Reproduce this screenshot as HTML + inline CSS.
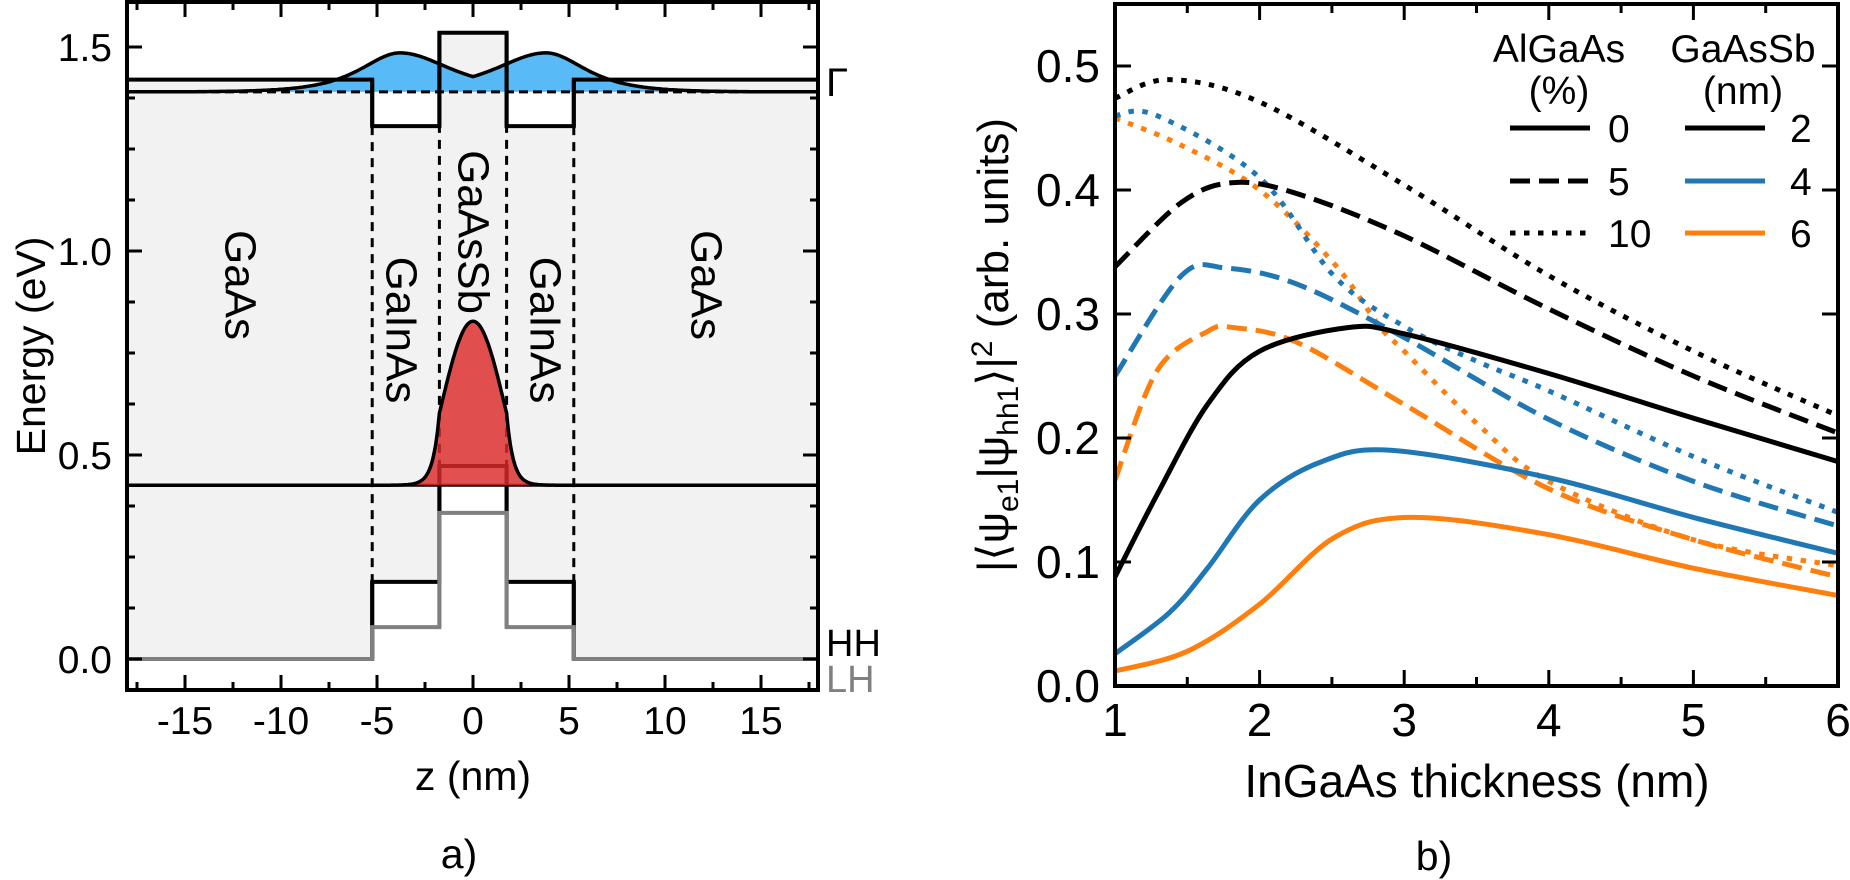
<!DOCTYPE html>
<html><head><meta charset="utf-8"><style>
html,body{margin:0;padding:0;background:#fff}
svg{display:block}
text{font-family:"Liberation Sans",sans-serif}
</style></head><body>
<svg id="s" width="1850" height="880" viewBox="0 0 1850 880" xmlns="http://www.w3.org/2000/svg">
<!-- LEFT PANEL -->
<g id="L"></g>
<!-- RIGHT PANEL -->
<g id="R"></g>
</svg>
<script>
const NS="http://www.w3.org/2000/svg";
function el(p,tag,attrs,txt){const e=document.createElementNS(NS,tag);for(const k in attrs)e.setAttribute(k,attrs[k]);if(txt!==undefined)e.textContent=txt;p.appendChild(e);return e;}
const L=document.getElementById('L'),R=document.getElementById('R');
// left mapping
const lx=z=>473+19.2*z, ly=E=>659-408*E;
const AX0=127,AX1=818,AY0=2,AY1=690;
el(L,'clipPath',{id:'cl'});el(L.lastChild,'rect',{x:AX0,y:AY0,width:AX1-AX0,height:AY1-AY0});
const g=el(L,'g',{'clip-path':'url(#cl)'});
const zs=[-18,-5.25,-1.75,1.75,5.25,18];
const CB=[1.42,1.306,1.535,1.306,1.42], HH=[0,0.189,0.473,0.189,0], LH=[0,0.078,0.358,0.078,0];
function stepPath(vals){let d='';for(let i=0;i<5;i++){d+=(i==0?'M':'L')+lx(zs[i])+','+ly(vals[i])+' L'+lx(zs[i+1])+','+ly(vals[i])+' ';}return d;}
// gray fill between HH and CB
for(let i=0;i<5;i++){el(g,'rect',{x:lx(zs[i]),y:ly(CB[i]),width:lx(zs[i+1])-lx(zs[i]),height:ly(HH[i])-ly(CB[i]),fill:'#f2f2f2'});}
// blue wavefunction
function fb(z){const a=Math.abs(z);return a<3.8?39/Math.cosh(0.42*(3.8-a)):39/Math.cosh(0.55*(a-3.8));}
let d='M'+lx(-18)+','+ly(1.39);for(let z=-18;z<=18.001;z+=0.1)d+=' L'+lx(z).toFixed(1)+','+(ly(1.39)-fb(z)).toFixed(1);
d+=' L'+lx(18)+','+ly(1.39)+'Z';
el(g,'path',{d:d,fill:'#2eaaf5','fill-opacity':0.8,stroke:'none'});
// red wavefunction
function fr(z){const a=Math.abs(z);if(a<=1.75)return 164*Math.pow(Math.cos(Math.PI*a/6.5),2);return 164*Math.pow(Math.cos(Math.PI*1.75/6.5),2)*Math.exp(-2.93*(a-1.75));}
let dr='M'+lx(-18)+','+ly(0.426);let dl='';for(let z=-18;z<=18.001;z+=0.05){const p=lx(z).toFixed(1)+','+(ly(0.426)-fr(z)).toFixed(1);dr+=' L'+p;dl+=(dl?' L':'M')+p;}
// black bands
el(g,'path',{d:stepPath(CB)+'',fill:'none',stroke:'#000','stroke-width':4,'stroke-linejoin':'miter'});
// vertical connections for CB
function vconn(vals,col){for(let i=1;i<5;i++)el(g,'line',{x1:lx(zs[i]),x2:lx(zs[i]),y1:ly(vals[i-1]),y2:ly(vals[i]),stroke:col,'stroke-width':4});}
vconn(CB,'#000');
el(g,'path',{d:stepPath(HH),fill:'none',stroke:'#000','stroke-width':4});vconn(HH,'#000');
// dashed verticals
[[-5.25,1.306],[5.25,1.306]].forEach(([z,E])=>el(g,'line',{x1:lx(z),x2:lx(z),y1:ly(E),y2:ly(0.189),stroke:'#000','stroke-width':3,'stroke-dasharray':'9,7'}));
[-1.75,1.75].forEach(z=>el(g,'line',{x1:lx(z),x2:lx(z),y1:ly(1.39),y2:ly(0.426),stroke:'#000','stroke-width':3,'stroke-dasharray':'9,7'}));
// dashed horizontal Γ level
el(g,'line',{x1:AX0,x2:AX1,y1:ly(1.39),y2:ly(1.39),stroke:'#000','stroke-width':3,'stroke-dasharray':'9,5'});
// blue outline
let db='';for(let z=-18;z<=18.001;z+=0.1)db+=(db?' L':'M')+lx(z).toFixed(1)+','+(ly(1.39)-fb(z)).toFixed(1);
el(g,'path',{d:db,fill:'none',stroke:'#000','stroke-width':3.5});
// hh level line
el(g,'line',{x1:AX0,x2:AX1,y1:ly(0.426),y2:ly(0.426),stroke:'#000','stroke-width':3});
// red fill over
dr+=' L'+lx(18)+','+ly(0.426)+'Z';
el(g,'path',{d:dr,fill:'#dd2a2a','fill-opacity':0.82,stroke:'none'});
el(g,'path',{d:dl,fill:'none',stroke:'#000','stroke-width':3.5});
// LH gray
el(g,'path',{d:stepPath(LH),fill:'none',stroke:'#808080','stroke-width':4});vconn(LH,'#808080');
// labels rotated
function vlab(x,y,t){el(L,'text',{x:0,y:0,'font-size':44,'text-anchor':'middle','dominant-baseline':'central',transform:`translate(${x},${y}) rotate(90)`},t);}
vlab(240,285,'GaAs');vlab(706,285,'GaAs');vlab(401,330,'GaInAs');vlab(545,330,'GaInAs');vlab(473,232,'GaAsSb');
// axes box
el(L,'rect',{x:AX0,y:AY0,width:AX1-AX0,height:AY1-AY0,fill:'none',stroke:'#000','stroke-width':4});
for(let z=-17.5;z<=17.6;z+=2.5){const maj=Math.abs(z%5)<0.01;const len=maj?15:8;const x=lx(z);
 el(L,'line',{x1:x,x2:x,y1:AY1,y2:AY1-len,stroke:'#000','stroke-width':3});el(L,'line',{x1:x,x2:x,y1:AY0,y2:AY0+len,stroke:'#000','stroke-width':3});
 if(maj&&Math.abs(z)<=15)el(L,'text',{x:x,y:734,'font-size':39,'text-anchor':'middle'},String(z));}
for(let k=0;k<=12;k++){const E=k*0.125;const maj=k%4==0;const len=maj?15:8;const y=ly(E);
 el(L,'line',{x1:AX0,x2:AX0+len,y1:y,y2:y,stroke:'#000','stroke-width':3});el(L,'line',{x1:AX1,x2:AX1-len,y1:y,y2:y,stroke:'#000','stroke-width':3});
 if(maj)el(L,'text',{x:112,y:y+14,'font-size':39,'text-anchor':'end'},E.toFixed(1));}
el(L,'text',{x:473,y:790,'font-size':41,'text-anchor':'middle'},'z (nm)');
el(L,'text',{x:0,y:0,'font-size':41,'text-anchor':'middle',transform:'translate(45,346) rotate(-90)'},'Energy (eV)');
el(L,'text',{x:459,y:868,'font-size':41,'text-anchor':'middle'},'a)');
el(L,'text',{x:826,y:96,'font-size':40,'font-family':'Liberation Serif,serif'},'Γ');
el(L,'text',{x:826,y:656,'font-size':38},'HH');
el(L,'text',{x:826,y:692,'font-size':38,fill:'#808080'},'LH');

// RIGHT
const rx=t=>1115+144.6*(t-1), ry=v=>686-1240*v;
const BX0=1115,BX1=1838,BY0=4,BY1=686;
el(R,'clipPath',{id:'cr'});el(R.lastChild,'rect',{x:BX0,y:BY0,width:BX1-BX0,height:BY1-BY0});
const gr=el(R,'g',{'clip-path':'url(#cr)'});
function smooth(pts){const P=pts.map(([t,v])=>[rx(t),ry(v)]);let d='M'+P[0][0]+','+P[0][1];
 for(let i=0;i<P.length-1;i++){const p0=P[Math.max(0,i-1)],p1=P[i],p2=P[i+1],p3=P[Math.min(P.length-1,i+2)];
  const c1=[p1[0]+(p2[0]-p0[0])/6,p1[1]+(p2[1]-p0[1])/6],c2=[p2[0]-(p3[0]-p1[0])/6,p2[1]-(p3[1]-p1[1])/6];
  d+=` C${c1[0].toFixed(1)},${c1[1].toFixed(1)} ${c2[0].toFixed(1)},${c2[1].toFixed(1)} ${p2[0].toFixed(1)},${p2[1].toFixed(1)}`;}return d;}
const BK='#000',BL='#1f77b4',OR='#ff7f0e';
const DASH='20,9',DOT='5.5,8.5';
const curves=[
 [OR,DOT,[[1,.458],[1.46,.436],[2,.4],[2.52,.34],[2.83,.29],[3,.27],[3.5,.212],[4,.165],[5,.118],[6,.097]]],
 [BL,DOT,[[1,.46],[1.29,.46],[2,.41],[2.52,.33],[3,.29],[3.5,.262],[4,.238],[5,.185],[6,.14]]],
 [BK,DOT,[[1,.474],[1.375,.489],[2,.471],[3,.404],[4,.331],[5,.27],[6,.218]]],
 [OR,DASH,[[1,.166],[1.29,.254],[1.64,.286],[1.82,.289],[2.26,.277],[3,.227],[4,.159],[5,.118],[6,.088]]],
 [BL,DASH,[[1,.25],[1.46,.331],[1.77,.337],[2.26,.324],[3,.281],[4,.215],[5,.165],[6,.129]]],
 [BK,DASH,[[1,.338],[1.46,.39],[1.82,.406],[2.26,.397],[3,.363],[4,.304],[5,.25],[6,.204]]],
 [OR,null,[[1,.012],[1.5,.028],[2,.066],[2.52,.12],[3.05,.136],[4,.122],[5,.095],[6,.073]]],
 [BL,null,[[1,.026],[1.375,.059],[1.64,.095],[2,.15],[2.43,.181],[2.92,.19],[4,.168],[5,.136],[6,.107]]],
 [BK,null,[[1,.088],[1.29,.154],[1.64,.227],[2,.27],[2.61,.289],[3,.284],[4,.252],[5,.216],[6,.181]]],
];
curves.forEach(([c,da,pts])=>{const a={d:smooth(pts),fill:'none',stroke:c,'stroke-width':5};if(da)a['stroke-dasharray']=da;el(gr,'path',a);});
el(R,'rect',{x:BX0,y:BY0,width:BX1-BX0,height:BY1-BY0,fill:'none',stroke:'#000','stroke-width':4});
for(let t=1;t<=6.01;t+=0.5){const maj=Math.abs(t-Math.round(t))<0.01;const len=maj?16:9;const x=rx(t);
 el(R,'line',{x1:x,x2:x,y1:BY1,y2:BY1-len,stroke:'#000','stroke-width':3});el(R,'line',{x1:x,x2:x,y1:BY0,y2:BY0+len,stroke:'#000','stroke-width':3});
 if(maj)el(R,'text',{x:x,y:736,'font-size':46,'text-anchor':'middle'},String(Math.round(t)));}
for(let k=0;k<=5;k++){const v=k*0.1;const y=ry(v);
 el(R,'line',{x1:BX0,x2:BX0+16,y1:y,y2:y,stroke:'#000','stroke-width':3});el(R,'line',{x1:BX1,x2:BX1-16,y1:y,y2:y,stroke:'#000','stroke-width':3});
 el(R,'text',{x:1100,y:y+16,'font-size':46,'text-anchor':'end'},v.toFixed(1));}
el(R,'text',{x:1477,y:797,'font-size':46,'text-anchor':'middle'},'InGaAs thickness (nm)');
el(R,'text',{x:1434,y:870,'font-size':41,'text-anchor':'middle'},'b)');
// y label
const yl=el(R,'text',{x:0,y:0,'font-size':44,'text-anchor':'middle',transform:'translate(1008,345) rotate(-90)'});
yl.innerHTML='|⟨ψ<tspan font-size="30" dy="10">e1</tspan><tspan dy="-10">|ψ</tspan><tspan font-size="30" dy="10">hh1</tspan><tspan dy="-10">⟩|</tspan><tspan font-size="30" dy="-16">2</tspan><tspan dy="16"> (arb. units)</tspan>';
// legend
el(R,'text',{x:1559,y:62,'font-size':39,'text-anchor':'middle'},'AlGaAs');
el(R,'text',{x:1559,y:104,'font-size':39,'text-anchor':'middle'},'(%)');
el(R,'text',{x:1743,y:62,'font-size':39,'text-anchor':'middle'},'GaAsSb');
el(R,'text',{x:1743,y:104,'font-size':39,'text-anchor':'middle'},'(nm)');
[[128,null,'0'],[181,DASH,'5'],[233,DOT,'10']].forEach(([y,da,t])=>{const a={x1:1510,x2:1590,y1:y,y2:y,stroke:'#000','stroke-width':5};if(da)a['stroke-dasharray']=da;el(R,'line',a);el(R,'text',{x:1608,y:y+14,'font-size':39},t);});
[[128,BK,'2'],[181,BL,'4'],[233,OR,'6']].forEach(([y,c,t])=>{el(R,'line',{x1:1685,x2:1765,y1:y,y2:y,stroke:c,'stroke-width':5});el(R,'text',{x:1790,y:y+14,'font-size':39},t);});
</script>
</body></html>
